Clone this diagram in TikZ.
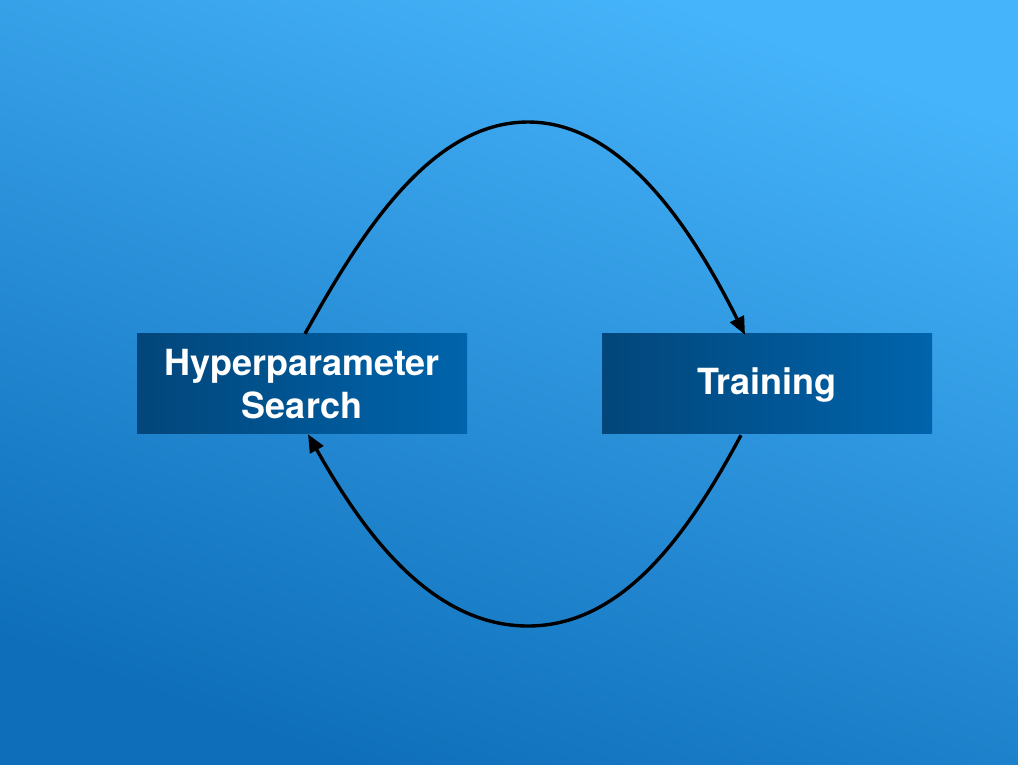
\documentclass[tikz,border=0pt]{standalone}
\usepackage{fontspec}
\setmainfont{TeX Gyre Heros}
\usetikzlibrary{arrows.meta,calc}
\definecolor{bgTR}{RGB}{70,180,250}
\definecolor{bgBL}{RGB}{14,110,185}
\definecolor{boxL}{RGB}{2,70,122}
\definecolor{boxR}{RGB}{0,100,172}
\tikzset{
  stepbox/.style={minimum width=330pt,minimum height=100pt,inner sep=0pt,
    text=white,font=\fontsize{36}{43}\selectfont\bfseries,align=center},
  flow/.style={line width=3.4pt,-{Triangle[length=18pt,width=15pt]}}
}
\begin{document}
\begin{tikzpicture}[x=1pt,y=-1pt]
\useasboundingbox (0,0) rectangle (1018,764);
\shade[shading=axis,top color=bgTR,bottom color=bgBL,shading angle=-20] (0,0) rectangle (1018,764);
\shade[left color=boxL,right color=boxR] (137,333) rectangle (467,433);
\shade[left color=boxL,right color=boxR] (602,333) rectangle (932,433);
\node[stepbox] (hs) at (302,384) {Hyperparameter\\Search};
\node[stepbox] (tr) at (767,385) {Training};
\coordinate (top) at (528,122);
\coordinate (bot) at (528,626);
\draw[flow] ([xshift=3pt]hs.north) .. controls (360,235) and (430,122) .. (top)
  .. controls (625,122) and (695,235) .. ([xshift=-22pt]tr.north);
\draw[flow] ([xshift=-26pt]tr.south) .. controls (690,530) and (625,626) .. (bot)
  .. controls (430,626) and (362,530) .. ([xshift=6pt]hs.south);
\end{tikzpicture}
\end{document}
